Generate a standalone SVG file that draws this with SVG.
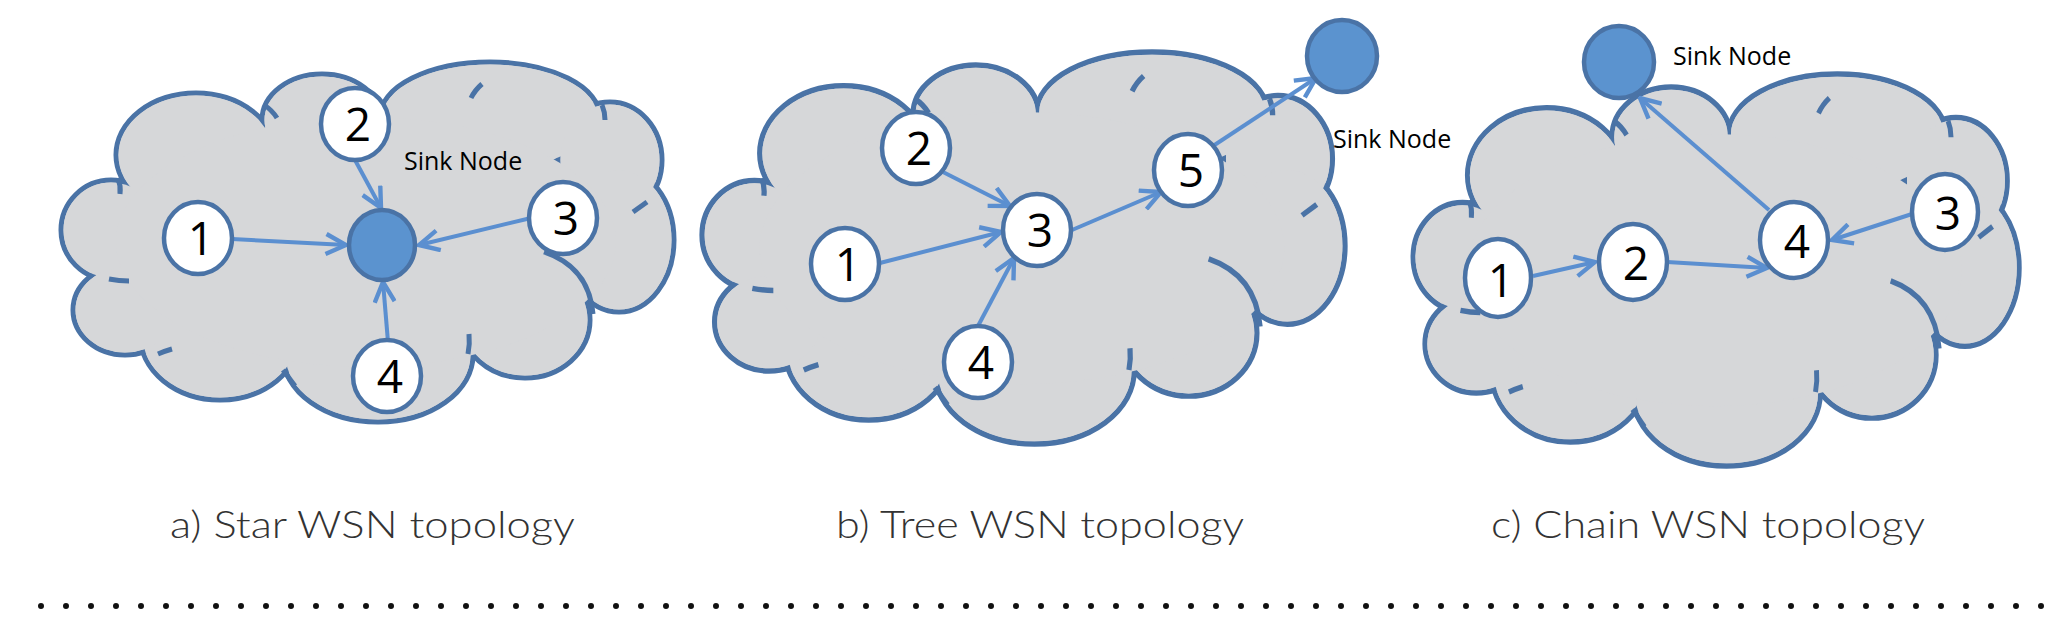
<svg xmlns="http://www.w3.org/2000/svg" xmlns:xlink="http://www.w3.org/1999/xlink" width="2059" height="622" viewBox="0 0 2059 622">
<style>
.lobe{fill:#d6d7d9;stroke:#4a73a6;stroke-width:5}
.lobefill{fill:#d6d7d9;stroke:none}
.crease{fill:none;stroke:#4a73a6;stroke-width:5}
.node{fill:#ffffff;stroke:#4a73a6;stroke-width:4.5}
.sink{fill:#5b93cf;stroke:#4a73a6;stroke-width:4.5}
.num{font-family:"Open Sans","Liberation Sans",sans-serif;font-size:46px;fill:#000;text-anchor:middle}
.lbl{font-family:"Open Sans","Liberation Sans",sans-serif;font-size:25px;fill:#000}
.title{font-family:"Lato","Roboto","Liberation Sans",sans-serif;font-weight:300;font-size:38px;fill:#333}
.edge{stroke:#5b8fd0;stroke-width:4;fill:none;marker-end:url(#arr)}
</style>
<defs>
<marker id="arr" markerUnits="userSpaceOnUse" markerWidth="24" markerHeight="24" viewBox="0 0 12 12" refX="11" refY="6" orient="auto">
<path d="M1,1 L11,6 L1,11" fill="none" stroke="#5b8fd0" stroke-width="2.2"/>
</marker>
<g id="cloud">
<g class="lobe">
<ellipse cx="50" cy="168" rx="50" ry="50"/>
<ellipse cx="135" cy="93" rx="80" ry="62"/>
<ellipse cx="261" cy="58" rx="60" ry="46"/>
<ellipse cx="429" cy="55" rx="110" ry="55"/>
<ellipse cx="549" cy="98" rx="52" ry="58"/>
<ellipse cx="558" cy="178" rx="55" ry="72"/>
<ellipse cx="464" cy="258" rx="65" ry="58"/>
<ellipse cx="317" cy="293" rx="95" ry="67"/>
<ellipse cx="159" cy="273" rx="80" ry="65"/>
<ellipse cx="64" cy="248" rx="52" ry="45"/>
</g>
<g class="lobefill">
<ellipse cx="50" cy="168" rx="47.5" ry="47.5"/>
<ellipse cx="135" cy="93" rx="77.5" ry="59.5"/>
<ellipse cx="261" cy="58" rx="57.5" ry="43.5"/>
<ellipse cx="429" cy="55" rx="107.5" ry="52.5"/>
<ellipse cx="549" cy="98" rx="49.5" ry="55.5"/>
<ellipse cx="558" cy="178" rx="52.5" ry="69.5"/>
<ellipse cx="464" cy="258" rx="62.5" ry="55.5"/>
<ellipse cx="317" cy="293" rx="92.5" ry="64.5"/>
<ellipse cx="159" cy="273" rx="77.5" ry="62.5"/>
<ellipse cx="64" cy="248" rx="49.5" ry="42.5"/>
<ellipse cx="305" cy="180" rx="250" ry="125"/>
</g>
<g class="crease">
<path d="M57,116 Q60,124 59,132"/>
<path d="M48,217 Q58,219 68,219"/>
<path d="M203,43 Q211,48 216,56"/>
<path d="M410,36 Q414,28 421,22"/>
<path d="M544,58 Q544,50 541,43"/>
<path d="M572,150 Q579,145 586,140"/>
<path d="M483,190 Q528,205 532,252"/>
<path d="M407,292 Q409,282 408,272"/>
<path d="M222,308 Q228,316 234,324"/>
<path d="M97,292 Q104,289 111,287"/>
</g>
</g>
</defs>

<g id="cloud-a"><use xlink:href="#cloud" transform="translate(61,62)"/></g>
<g id="cloud-b"><use xlink:href="#cloud" transform="translate(702,52) scale(1.049,1.089)"/></g>
<g id="cloud-c"><use xlink:href="#cloud" transform="translate(1413,74) scale(0.989,1.089)"/></g>

<g id="connectors">
<line class="edge" x1="232" y1="239" x2="346" y2="245"/>
<line class="edge" x1="355" y1="160" x2="381" y2="208"/>
<line class="edge" x1="531" y1="218" x2="419" y2="245"/>
<line class="edge" x1="388" y1="342" x2="383" y2="282"/>
<line class="edge" x1="876" y1="264" x2="1001" y2="232"/>
<line class="edge" x1="939" y1="170" x2="1010" y2="206"/>
<line class="edge" x1="978" y1="326" x2="1014" y2="258"/>
<line class="edge" x1="1072" y1="230" x2="1161" y2="192"/>
<line class="edge" x1="1213" y1="146" x2="1316" y2="78"/>
<line class="edge" x1="1533" y1="276" x2="1595" y2="262"/>
<line class="edge" x1="1667" y1="262" x2="1767" y2="268"/>
<line class="edge" x1="1912" y1="214" x2="1832" y2="240"/>
<line class="edge" x1="1769" y1="210" x2="1640" y2="98"/>
</g>

<g id="a-sink"><ellipse class="sink" cx="382" cy="245" rx="33" ry="35"/><text class="lbl" x="404" y="170">Sink Node</text></g>
<g id="a-n1"><ellipse class="node" cx="198" cy="238" rx="34" ry="36"/><text class="num" x="201" y="255">1</text></g>
<g id="a-n2"><ellipse class="node" cx="355" cy="124" rx="34" ry="36"/><text class="num" x="358" y="141">2</text></g>
<g id="a-n3"><ellipse class="node" cx="563" cy="218" rx="34" ry="36"/><text class="num" x="566" y="235">3</text></g>
<g id="a-n4"><ellipse class="node" cx="387" cy="376" rx="34" ry="36"/><text class="num" x="390" y="393">4</text></g>

<g id="b-sink"><ellipse class="sink" cx="1342" cy="56" rx="35" ry="36"/><text class="lbl" x="1333" y="148">Sink Node</text></g>
<g id="b-n1"><ellipse class="node" cx="845" cy="264" rx="34" ry="36"/><text class="num" x="848" y="281">1</text></g>
<g id="b-n2"><ellipse class="node" cx="916" cy="148" rx="34" ry="36"/><text class="num" x="919" y="165">2</text></g>
<g id="b-n3"><ellipse class="node" cx="1037" cy="230" rx="34" ry="36"/><text class="num" x="1040" y="247">3</text></g>
<g id="b-n4"><ellipse class="node" cx="978" cy="362" rx="34" ry="36"/><text class="num" x="981" y="379">4</text></g>
<g id="b-n5"><ellipse class="node" cx="1188" cy="170" rx="34" ry="36"/><text class="num" x="1191" y="187">5</text></g>

<g id="c-sink"><ellipse class="sink" cx="1619" cy="62" rx="35" ry="36"/><text class="lbl" x="1673" y="65">Sink Node</text></g>
<g id="c-n1"><ellipse class="node" cx="1498" cy="278" rx="33" ry="39"/><text class="num" x="1501" y="297">1</text></g>
<g id="c-n2"><ellipse class="node" cx="1633" cy="262" rx="34" ry="38"/><text class="num" x="1636" y="280">2</text></g>
<g id="c-n3"><ellipse class="node" cx="1945" cy="212" rx="33" ry="38"/><text class="num" x="1948" y="230">3</text></g>
<g id="c-n4"><ellipse class="node" cx="1794" cy="240" rx="34" ry="38"/><text class="num" x="1797" y="258">4</text></g>

<g id="titles">
<text class="title" x="170" y="538" textLength="405" lengthAdjust="spacingAndGlyphs">a) Star WSN topology</text>
<text class="title" x="836" y="538" textLength="408" lengthAdjust="spacingAndGlyphs">b) Tree WSN topology</text>
<text class="title" x="1491" y="538" textLength="434" lengthAdjust="spacingAndGlyphs">c) Chain WSN topology</text>
</g>
<line x1="41" y1="606" x2="2045" y2="606" stroke="#111" stroke-width="6" stroke-linecap="round" stroke-dasharray="0 25"/>
</svg>
